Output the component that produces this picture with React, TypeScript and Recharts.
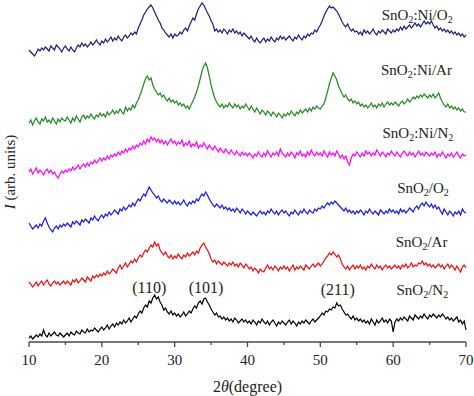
import { LineChart, Line, XAxis, YAxis, ReferenceDot } from "recharts"

// 2θ grid, 10° to 70° in 0.25° steps
const angles = Array.from({ length: 241 }, (_, i) => 10 + i * 0.25)

// intensities (arb. units), already stacked with their vertical offsets
const niO2 = [
  292, 290, 288, 286, 289, 293, 291, 294, 292, 295, 293, 291, 296, 294, 292, 297, 295, 293, 290, 294,
  296, 293, 291, 295, 292, 290, 294, 297, 295, 299, 296, 298, 295, 297, 300, 297, 299, 302, 299, 297,
  301, 299, 303, 300, 302, 305, 301, 304, 302, 306, 303, 301, 305, 307, 304, 306, 309, 307, 310, 308,
  314, 318, 322, 327, 330, 333, 335, 337, 334, 330, 326, 322, 319, 314, 312, 309, 307, 305, 308, 304,
  308, 306, 307, 310, 308, 312, 314, 311, 316, 320, 324, 322, 328, 333, 336, 339, 337, 333, 329, 326,
  321, 318, 311, 313, 310, 312, 309, 313, 311, 308, 312, 310, 313, 309, 311, 308, 310, 306, 309, 307,
  305, 303, 306, 302, 300, 304, 301, 299, 302, 304, 300, 303, 301, 305, 302, 300, 304, 302, 306, 303,
  305, 302, 304, 306, 303, 301, 305, 303, 307, 304, 302, 306, 304, 308, 306, 309, 308, 312, 310, 314,
  317, 321, 326, 330, 333, 336, 334, 335, 333, 331, 328, 324, 320, 317, 315, 318, 314, 311, 313, 310,
  311, 308, 310, 307, 312, 309, 311, 308, 310, 313, 309, 307, 311, 309, 312, 310, 308, 313, 311, 309,
  312, 310, 313, 311, 315, 312, 316, 313, 315, 317, 314, 316, 319, 316, 318, 315, 318, 321, 318, 320,
  318, 321, 317, 314, 316, 312, 314, 311, 313, 310, 312, 309, 311, 308, 310, 307, 309, 306, 308, 305,
  307,
]

const niAr = [
  219, 222, 217, 221, 224, 220, 218, 223, 221, 225, 220, 222, 219, 224, 221, 218, 223, 220, 224, 222,
  221, 225, 222, 219, 224, 221, 226, 223, 220, 225, 227, 223, 226, 224, 228, 225, 223, 227, 225, 229,
  226, 228, 225, 230, 227, 229, 232, 228, 231, 229, 233, 230, 228, 235, 231, 234, 232, 237, 234, 239,
  242, 247, 252, 258, 263, 266, 262, 264, 257, 253, 250, 247, 249, 245, 247, 243, 241, 244, 240, 242,
  239, 241, 237, 239, 236, 238, 234, 236, 233, 237, 241, 245, 250, 256, 263, 271, 276, 279, 274, 266,
  257, 250, 244, 240, 237, 235, 238, 234, 237, 235, 239, 236, 234, 238, 235, 237, 233, 236, 234, 238,
  235, 232, 236, 233, 230, 234, 231, 228, 232, 230, 227, 231, 229, 226, 230, 228, 225, 229, 227, 224,
  228, 226, 229, 227, 231, 228, 226, 230, 228, 232, 229, 231, 233, 230, 234, 231, 235, 233, 236, 234,
  233, 236, 238, 244, 251, 258, 264, 269, 266, 262, 256, 252, 248, 245, 247, 243, 241, 243, 239, 241,
  238, 240, 236, 238, 235, 237, 234, 236, 239, 235, 237, 234, 238, 236, 239, 235, 238, 240, 237, 239,
  237, 240, 238, 236, 239, 241, 238, 240, 243, 240, 242, 245, 243, 246, 244, 247, 245, 248, 246, 244,
  247, 245, 248, 244, 246, 249, 244, 240, 237, 235, 238, 234, 236, 233, 235, 232, 234, 231, 233, 230,
  230,
]

const niN2 = [
  170, 173, 168, 171, 174, 169, 172, 170, 167, 171, 173, 169, 172, 168, 170, 166, 164, 168, 171, 169,
  172, 170, 173, 171, 175, 172, 174, 177, 173, 176, 178, 175, 179, 176, 180, 178, 182, 179, 181, 184,
  181, 184, 182, 186, 183, 187, 185, 188, 186, 190, 187, 191, 189, 193, 190, 194, 192, 196, 193, 197,
  195, 199, 197, 201, 198, 203, 200, 205, 202, 204, 200, 203, 199, 202, 198, 201, 197, 200, 203, 199,
  201, 197, 200, 198, 202, 196, 199, 197, 201, 195, 198, 196, 200, 194, 197, 195, 199, 196, 193, 197,
  194, 192, 196, 193, 190, 194, 191, 189, 193, 190, 188, 192, 189, 187, 191, 188, 186, 190, 187, 189,
  186, 189, 187, 184, 188, 186, 190, 187, 185, 189, 186, 191, 188, 185, 189, 187, 190, 186, 193, 189,
  187, 185, 189, 186, 190, 188, 184, 189, 187, 191, 186, 188, 185, 190, 187, 192, 188, 186, 190, 187,
  189, 186, 191, 188, 185, 190, 187, 189, 186, 191, 188, 184, 187, 183, 186, 180, 177, 184, 188, 186,
  190, 187, 185, 189, 186, 191, 188, 190, 186, 189, 187, 192, 189, 186, 190, 188, 185, 189, 187, 191,
  188, 186, 190, 187, 185, 189, 191, 188, 186, 190, 187, 189, 185, 188, 191, 187, 189, 186, 190, 188,
  186, 189, 187, 190, 185, 188, 186, 190, 187, 184, 188, 186, 189, 185, 187, 190, 186, 184, 188, 186,
  187,
]

const pureO2 = [
  119, 116, 113, 115, 117, 114, 118, 116, 121, 124, 119, 115, 112, 110, 114, 116, 113, 117, 115, 118,
  116, 119, 117, 115, 120, 118, 121, 119, 117, 122, 120, 123, 121, 119, 124, 122, 126, 123, 121, 125,
  127, 124, 128, 126, 130, 127, 129, 132, 130, 128, 133, 131, 135, 132, 134, 137, 135, 139, 136, 140,
  143, 141, 145, 148, 146, 151, 155, 152, 149, 147, 144, 146, 142, 140, 143, 141, 139, 142, 140, 138,
  141, 138, 140, 137, 139, 142, 138, 136, 140, 138, 141, 139, 143, 141, 145, 148, 146, 150, 147, 143,
  140, 137, 135, 138, 136, 134, 137, 133, 135, 132, 134, 131, 133, 130, 134, 132, 129, 133, 131, 128,
  131, 129, 127, 130, 128, 126, 129, 131, 128, 130, 127, 131, 129, 133, 130, 128, 131, 127, 130, 132,
  129, 131, 128, 126, 130, 128, 132, 129, 127, 131, 129, 133, 130, 128, 132, 130, 129, 133, 131, 134,
  133, 136, 134, 137, 139, 137, 140, 138, 141, 139, 137, 135, 133, 131, 134, 130, 132, 129, 131, 128,
  131, 129, 132, 130, 127, 131, 129, 133, 130, 128, 131, 129, 127, 132, 130, 128, 131, 129, 133, 130,
  132, 129, 131, 128, 133, 130, 132, 129, 131, 134, 132, 130, 134, 136, 133, 137, 139, 136, 140, 137,
  135, 138, 134, 137, 133, 135, 131, 128, 133, 130, 127, 131, 129, 126, 130, 128, 131, 127, 133, 130,
  129,
]

const pureAr = [
  60, 58, 55, 57, 60, 56, 59, 61, 57, 60, 62, 58, 56, 59, 61, 58, 60, 57, 59, 61,
  58, 61, 59, 57, 62, 60, 63, 59, 61, 64, 62, 60, 65, 63, 61, 66, 64, 67, 65, 68,
  66, 69, 67, 71, 68, 70, 73, 71, 69, 74, 77, 73, 76, 79, 75, 78, 81, 79, 83, 80,
  84, 87, 85, 89, 92, 90, 94, 97, 95, 100, 96, 98, 92, 89, 87, 90, 86, 84, 87, 83,
  86, 84, 88, 85, 83, 87, 85, 89, 86, 88, 90, 87, 91, 89, 94, 97, 99, 95, 92, 88,
  83, 80, 82, 78, 81, 79, 77, 80, 78, 76, 79, 77, 80, 76, 78, 75, 79, 77, 74, 78,
  76, 73, 75, 71, 74, 72, 69, 73, 71, 70, 74, 77, 73, 75, 72, 76, 74, 71, 75, 73,
  76, 73, 75, 71, 74, 77, 72, 75, 73, 76, 74, 72, 77, 75, 73, 76, 78, 75, 77, 79,
  76, 78, 81, 84, 86, 89, 87, 90, 88, 85, 87, 83, 78, 75, 73, 76, 72, 75, 77, 73,
  76, 74, 77, 73, 75, 72, 76, 74, 78, 75, 73, 77, 74, 76, 72, 75, 77, 74, 76, 73,
  75, 77, 74, 76, 73, 77, 75, 78, 74, 76, 79, 75, 77, 76, 79, 78, 81, 77, 79, 76,
  78, 75, 77, 74, 76, 78, 75, 77, 73, 76, 78, 74, 77, 75, 72, 76, 73, 70, 75, 77,
  74,
]

const pureN2 = [
  4, 6, 3, 5, 7, 5, 8, 6, 12, 7, 5, 9, 6, 8, 10, 7, 6, 9, 7, 5,
  7, 9, 6, 10, 8, 7, 11, 9, 8, 12, 10, 9, 13, 10, 12, 11, 14, 12, 10, 13,
  15, 12, 14, 17, 13, 16, 18, 15, 19, 17, 20, 18, 22, 19, 21, 24, 20, 23, 26, 24,
  28, 31, 29, 34, 37, 35, 41, 39, 44, 47, 43, 45, 40, 37, 32, 34, 30, 28, 31, 27,
  29, 26, 28, 25, 27, 30, 26, 28, 31, 29, 33, 36, 34, 39, 41, 38, 43, 44, 40, 37,
  33, 30, 27, 29, 25, 26, 23, 25, 22, 24, 21, 23, 20, 24, 22, 19, 21, 23, 20, 22,
  19, 21, 18, 22, 20, 17, 21, 19, 23, 20, 18, 21, 17, 20, 22, 19, 16, 20, 18, 21,
  19, 17, 20, 22, 18, 21, 19, 16, 20, 18, 21, 19, 22, 20, 18, 21, 23, 20, 22, 24,
  26, 29, 27, 31, 30, 33, 32, 35, 34, 39, 36, 37, 33, 30, 27, 28, 25, 23, 26, 22,
  24, 21, 23, 20, 22, 19, 21, 18, 23, 20, 17, 22, 19, 21, 24, 20, 22, 19, 23, 21,
  10, 20, 23, 21, 24, 22, 25, 23, 21, 26, 24, 22, 27, 25, 23, 26, 24, 28, 25, 23,
  27, 25, 28, 26, 24, 27, 25, 28, 26, 23, 25, 22, 24, 21, 23, 25, 20, 22, 18, 21,
  12,
]

const majorTicks = [10, 20, 30, 40, 50, 60, 70]
const allTicks = [10, 15, 20, 25, 30, 35, 40, 45, 50, 55, 60, 65, 70]

// formula pieces: odd entries are subscripts
const SERIES = [
  { key: "niO2", values: niO2, color: "#1b1b82", name: ["SnO", "2", ":Ni/O", "2"], lx: 63.3, ly: 327 },
  { key: "niAr", values: niAr, color: "#1e8a1e", name: ["SnO", "2", ":Ni/Ar"], lx: 63.2, ly: 272 },
  { key: "niN2", values: niN2, color: "#ff00ff", name: ["SnO", "2", ":Ni/N", "2"], lx: 63.4, ly: 209 },
  { key: "pureO2", values: pureO2, color: "#1515f5", name: ["SnO", "2", "/O", "2"], lx: 64.1, ly: 154 },
  { key: "pureAr", values: pureAr, color: "#f00a0a", name: ["SnO", "2", "/Ar"], lx: 63.9, ly: 100 },
  { key: "pureN2", values: pureN2, color: "#000000", name: ["SnO", "2", "/N", "2"], lx: 64.0, ly: 52 },
]

const peaks = [
  { hkl: "(110)", at: 26.5, h: 55 },
  { hkl: "(101)", at: 34.3, h: 55 },
  { hkl: "(211)", at: 52.4, h: 53 },
]

const rows = angles.map((a, i) => {
  const r: Record<string, number> = { a }
  SERIES.forEach(s => { r[s.key] = s.values[i] })
  return r
})

const FONT = "'Liberation Serif', 'Times New Roman', serif"
const AXIS = "#4a4a4a"

function center(p: any) {
  const vb = p.viewBox || {}
  return { cx: vb.x + (vb.width || 0) / 2, cy: vb.y + (vb.height || 0) / 2 }
}

function Formula({ parts, p }: { parts: string[]; p: any }) {
  const { cx, cy } = center(p)
  return (
    <text x={cx} y={cy} textAnchor="middle" dominantBaseline="central" fontFamily={FONT} fontSize={15} fill="#222">
      {parts.map((t, i) =>
        i % 2 === 1
          ? <tspan key={i} fontSize={10} dy={4}>{t}</tspan>
          : <tspan key={i} dy={i === 0 ? 0 : -4}>{t}</tspan>
      )}
    </text>
  )
}

// tick mark + label; y arrives at the axis line since tickSize and tickMargin are 0
function AngleTick(props: any) {
  const { x, y, payload } = props
  const major = majorTicks.includes(payload.value)
  return (
    <g>
      <line x1={x} y1={y} x2={x} y2={y + (major ? 5 : 3)} stroke={AXIS} strokeWidth={1.3} />
      {major && (
        <text x={x} y={y + 23} textAnchor="middle" fontFamily={FONT} fontSize={15} fill="#222">
          {payload.value}
        </text>
      )}
    </g>
  )
}

// both axis titles drawn together, relative to the bottom axis box
function AxisTitles(p: any) {
  const vb = p.viewBox
  const midY = 172
  return (
    <g>
      <text x={vb.x + vb.width / 2} y={386} textAnchor="middle" dominantBaseline="central" fontFamily={FONT} fontSize={16} fill="#222">
        <tspan>2</tspan>
        <tspan fontStyle="italic">θ</tspan>
        <tspan>(degree)</tspan>
      </text>
      <text x={10} y={midY} transform={`rotate(-90 10 ${midY})`} textAnchor="middle" dominantBaseline="central" fontFamily={FONT} fontSize={15} fill="#222">
        <tspan fontStyle="italic">I</tspan>
        <tspan> (arb. units)</tspan>
      </text>
    </g>
  )
}

export default function App() {
  return (
    <div style={{ position: "absolute", left: 0, top: 0 }}>
      <LineChart width={474} height={396} data={rows} margin={{ top: 1, right: 8, bottom: 0, left: 29 }}>
        <XAxis
          dataKey="a"
          type="number"
          domain={[10, 70]}
          ticks={allTicks}
          tick={<AngleTick />}
          tickLine={false}
          tickSize={0}
          tickMargin={0}
          height={54}
          stroke={AXIS}
          strokeWidth={1.5}
          label={{ content: (p: any) => <AxisTitles {...p} /> }}
        />
        <XAxis xAxisId="top" orientation="top" dataKey="a" type="number" domain={[10, 70]} tick={false} tickLine={false} height={0} stroke="#cfcfcf" strokeWidth={1.5} />
        <YAxis type="number" domain={[0, 341]} tick={false} tickLine={false} width={0} stroke={AXIS} strokeWidth={1.5} />
        <YAxis yAxisId="right" orientation="right" type="number" domain={[0, 341]} tick={false} tickLine={false} width={0} stroke={AXIS} strokeWidth={1.5} />

        {SERIES.map(s => (
          <Line
            key={s.key}
            dataKey={s.key}
            type="linear"
            stroke={s.color}
            strokeWidth={1.2}
            dot={false}
            isAnimationActive={false}
          />
        ))}

        {SERIES.map(s => (
          <ReferenceDot
            key={`lbl-${s.key}`}
            x={s.lx}
            y={s.ly}
            r={1}
            fill="none"
            stroke="none"
            label={{ content: (p: any) => <Formula parts={s.name} p={p} /> }}
          />
        ))}

        {peaks.map(pk => (
          <ReferenceDot
            key={pk.hkl}
            x={pk.at}
            y={pk.h}
            r={1}
            fill="none"
            stroke="none"
            label={{
              content: (p: any) => {
                const { cx, cy } = center(p)
                return (
                  <text x={cx} y={cy} textAnchor="middle" dominantBaseline="central" fontFamily={FONT} fontSize={16} fill="#222">
                    {pk.hkl}
                  </text>
                )
              },
            }}
          />
        ))}
      </LineChart>
    </div>
  )
}
